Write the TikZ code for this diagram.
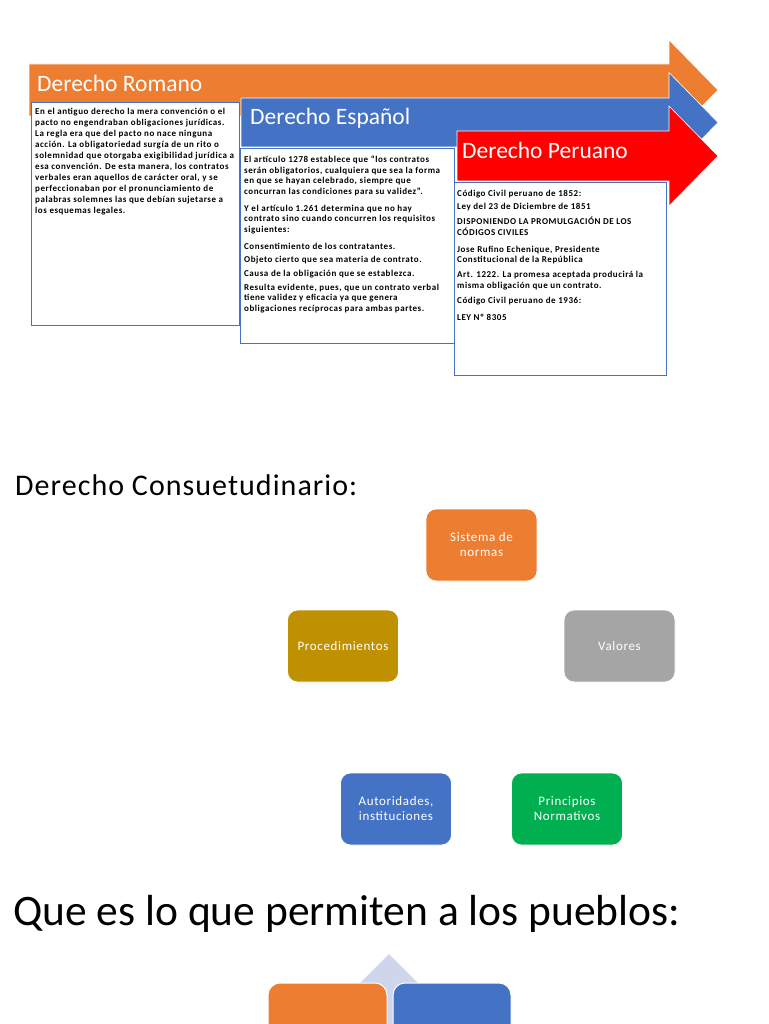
\documentclass[tikz,border=0pt]{standalone}
\usepackage{fontspec}
\setmainfont{Carlito}

\definecolor{naranja}{HTML}{ED7D31}
\definecolor{azul}{HTML}{4472C4}
\definecolor{rojo}{HTML}{FF0000}
\definecolor{dorado}{HTML}{BF9000}
\definecolor{gris}{HTML}{A5A5A5}
\definecolor{verde}{HTML}{00B050}
\definecolor{lila}{HTML}{CFD5EA}

\tikzset{
  titulo/.style={text=white, inner sep=0pt, font=\fontsize{23.5}{26}\selectfont},
  caja/.style={draw=azul, fill=white, line width=0.6pt, inner sep=0pt},
  texto/.style={align=left, inner sep=0pt,
    font=\bfseries\fontsize{9}{#1}\selectfont\addfontfeature{LetterSpace=6}},
  texto/.default=10.5,
  bloque/.style={rounded corners=10pt, draw=white, line width=0.8pt, minimum width=111pt,
    minimum height=72pt, text=white, align=center,
    font=\fontsize{13}{15}\selectfont\addfontfeature{LetterSpace=5}}
}

\begin{document}
\begin{tikzpicture}[x=1pt, y=-1pt]
      \useasboundingbox (0,0) rectangle (768,1024);
      \clip (0,0) rectangle (768,1024);

      % arrows
      \foreach \xl/\yt/\yb/\col in {29/64/116/naranja, 241/98/147/azul, 457/131/181/rojo}{
        \pgfmathsetmacro\ym{(\yt+\yb)/2}
        \filldraw[fill=\col, draw=white, line width=0.6pt] (\xl,\yt) -- (669,\yt) -- (669,\ym-50)
          -- (718,\ym) -- (669,\ym+50) -- (669,\yb) -- (\xl,\yb) -- cycle;
      }
      \node[titulo, anchor=base west] (romano) at (37,92) {Derecho Romano};
      \node[titulo, anchor=base west] (espanol) at (250,125) {Derecho Español};
      \node[titulo, anchor=base west] (peruano) at (462,159) {Derecho Peruano};

      % boxes
      \node[caja, anchor=north west, minimum width=208pt, minimum height=223pt] (cajaRomano) at (31,102) {};
      \node[caja, anchor=north west, minimum width=214pt, minimum height=195pt] (cajaEspanol) at (240,148) {};
      \node[caja, anchor=north west, minimum width=212pt, minimum height=193pt] (cajaPeruano) at (454,182) {};

      \node[texto=11, anchor=north west] (textoRomano) at ([xshift=4pt, yshift=-5.5pt]cajaRomano.north west)
        {En el antiguo derecho la mera convención o el\\
         pacto no engendraban obligaciones jurídicas.\\
         La regla era que del pacto no nace ninguna\\
         acción. La obligatoriedad surgía de un rito o\\
         solemnidad que otorgaba exigibilidad jurídica a\\
         esa convención. De esta manera, los contratos\\
         verbales eran aquellos de carácter oral, y se\\
         perfeccionaban por el pronunciamiento de\\
         palabras solemnes las que debían sujetarse a\\
         los esquemas legales.};
      \node[texto, anchor=north west] (textoEspanol) at ([xshift=4pt, yshift=-8pt]cajaEspanol.north west)
        {El artículo 1278 establece que “los contratos\\
         serán obligatorios, cualquiera que sea la forma\\
         en que se hayan celebrado, siempre que\\
         concurran las condiciones para su validez”.\\[6.5pt]
         Y el artículo 1.261 determina que no hay\\
         contrato sino cuando concurren los requisitos\\
         siguientes:\\[6.5pt]
         Consentimiento de los contratantes.\\[3pt]
         Objeto cierto que sea materia de contrato.\\[3.5pt]
         Causa de la obligación que se establezca.\\[3pt]
         Resulta evidente, pues, que un contrato verbal\\
         tiene validez y eficacia ya que genera\\
         obligaciones recíprocas para ambas partes.};
      \node[texto, anchor=north west] (textoPeruano) at ([xshift=3pt, yshift=-8pt]cajaPeruano.north west)
        {Código Civil peruano de 1852:\\[2.5pt]
         Ley del 23 de Diciembre de 1851\\[4.5pt]
         DISPONIENDO LA PROMULGACIÓN DE LOS\\
         CÓDIGOS CIVILES\\[6.5pt]
         Jose Rufino Echenique, Presidente\\
         Constitucional de la República\\[4.5pt]
         Art. 1222. La promesa aceptada producirá la\\
         misma obligación que un contrato.\\[4.5pt]
         Código Civil peruano de 1936:\\[6.5pt]
         LEY Nº 8305};

      % derecho consuetudinario
      \node[anchor=base west, inner sep=0pt,
        font=\fontsize{30}{34}\selectfont\addfontfeature{LetterSpace=3.5}] (consuetudinario) at (15,495)
        {Derecho Consuetudinario:};
      \node[bloque, fill=naranja] (sistema) at (481.5,545) {Sistema de\\normas};
      \node[bloque, fill=dorado] (procedimientos) at (343,646) {Procedimientos};
      \node[bloque, fill=gris] (valores) at (619.5,646) {Valores};
      \node[bloque, fill=azul] (autoridades) at (396,809) {Autoridades,\\instituciones};
      \node[bloque, fill=verde] (principios) at (567,809) {Principios\\Normativos};

      % pueblos
      \node[anchor=base west, inner sep=0pt, font=\fontsize{43.5}{48}\selectfont] (pueblos) at (13,925)
        {Que es lo que permiten a los pueblos:};
      \fill[lila] (389,954) -- (435,1000) -- (389,1046) -- (343,1000) -- cycle;
      \draw[fill=naranja, draw=white, line width=1pt, rounded corners=12pt] (268,983) rectangle (387,1070);
      \draw[fill=azul, draw=white, line width=1pt, rounded corners=12pt] (393,983) rectangle (511,1070);
    \end{tikzpicture}
\end{document}
